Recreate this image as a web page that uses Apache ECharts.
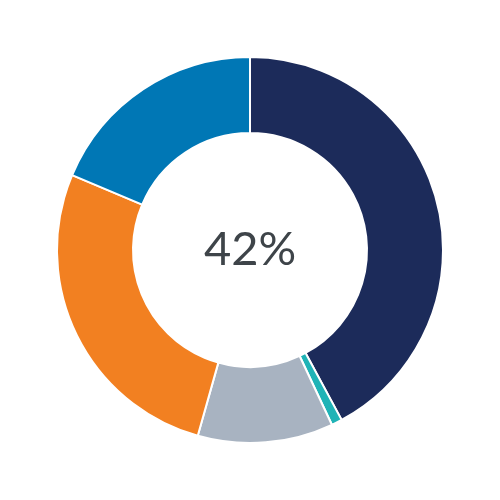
<!DOCTYPE html>
<html>
<head>
<meta charset="utf-8">
<script src="https://cdn.jsdelivr.net/npm/echarts@6/dist/echarts.min.js"></script>
<style>html,body{margin:0;padding:0;background:#fff;}#c{width:500px;height:500px;}</style>
</head>
<body>
<div id="c"></div>
<script>
const categories = ['Navy', 'Teal', 'Gray', 'Orange', 'Blue'];
const values = [42, 0.9, 11.3, 26.9, 18.6];
const colors = ['#1c2b5a', '#1fb3b6', '#a8b3c1', '#f28021', '#0077b5'];
const centerLabel = '42%';

const chart = echarts.init(document.getElementById('c'));
chart.setOption({
  animation: false,
  title: {
    text: centerLabel,
    left: 'center',
    top: 'middle',
    padding: [0, 0, 8, 0],
    textStyle: { fontFamily: 'Lato', fontSize: 47, fontWeight: 'normal', color: '#3e4449' }
  },
  series: [{
    type: 'pie',
    center: ['50%', '50%'],
    radius: ['46.8%', '77.2%'],
    startAngle: 90,
    clockwise: true,
    label: { show: false },
    labelLine: { show: false },
    itemStyle: { borderColor: '#ffffff', borderWidth: 2 },
    data: categories.map((c, i) => ({ name: c, value: values[i], itemStyle: { color: colors[i] } }))
  }]
});
</script>
</body>
</html>
